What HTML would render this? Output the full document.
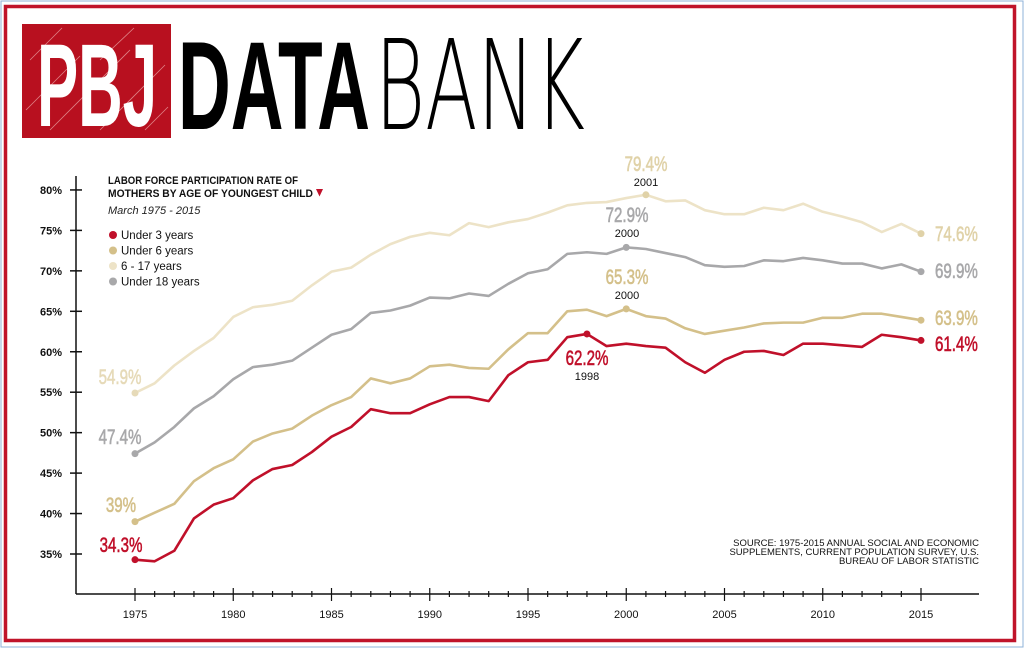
<!DOCTYPE html>
<html><head><meta charset="utf-8">
<style>
html,body{margin:0;padding:0;background:#fff;}
body{width:1024px;height:648px;position:relative;overflow:hidden;font-family:"Liberation Sans",sans-serif;}
svg{position:absolute;left:0;top:0;}
</style></head>
<body>
<svg width="1024" height="648" viewBox="0 0 1024 648">
  <rect x="1" y="1" width="1022" height="646" fill="none" stroke="#8fb3d9" stroke-width="1"/>
  <rect x="5.5" y="6.5" width="1009" height="634" fill="none" stroke="#c0142a" stroke-width="3.5"/>
  <g>
    <rect x="22" y="24" width="149" height="114" fill="#b8101f"/>
    <g stroke="#e8a0a0" stroke-width="0.8" opacity="0.8">
      <line x1="30" y1="60" x2="62" y2="28"/><line x1="26" y1="110" x2="80" y2="56"/><line x1="50" y1="130" x2="130" y2="50"/><line x1="100" y1="130" x2="165" y2="65"/><line x1="100" y1="60" x2="134" y2="28"/><line x1="145" y1="130" x2="168" y2="107"/>
    </g>
    <text x="37" y="126" font-family="Liberation Sans" font-weight="bold" font-size="118" fill="#fff" textLength="120" lengthAdjust="spacingAndGlyphs">PBJ</text>
    <text x="178" y="129" font-family="Liberation Sans" font-weight="bold" font-size="125" fill="#000" textLength="192" lengthAdjust="spacingAndGlyphs">DATA</text>
    <text x="375" y="129" font-family="DejaVu Sans ExtraLight, DejaVu Sans, sans-serif" font-weight="200" font-size="125" fill="#000" textLength="210" lengthAdjust="spacingAndGlyphs">BANK</text>
  </g>
  <g id="axes"></g>
  <g id="series"></g>
  <g>
    <text x="108" y="184" font-size="11" font-weight="bold" fill="#111" textLength="190" lengthAdjust="spacingAndGlyphs">LABOR FORCE PARTICIPATION RATE OF</text>
    <text x="108" y="197" font-size="11" font-weight="bold" fill="#111" textLength="205" lengthAdjust="spacingAndGlyphs">MOTHERS BY AGE OF YOUNGEST CHILD</text>
    <path d="M316 189 h7 l-3.5 7.5 z" fill="#c0102a"/>
    <text x="108" y="214" font-size="11" font-style="italic" fill="#222">March 1975 - 2015</text>
  </g>
  <g id="legend"></g>
  <g font-size="9.5" fill="#111" text-anchor="end">
    <text x="979" y="546">SOURCE: 1975-2015 ANNUAL SOCIAL AND ECONOMIC</text>
    <text x="979" y="555">SUPPLEMENTS, CURRENT POPULATION SURVEY, U.S.</text>
    <text x="979" y="564">BUREAU OF LABOR STATISTIC</text>
  </g>
</svg>
<script>
const years=[];for(let y=1975;y<=2015;y++)years.push(y);
const under3=[34.3,34.1,35.4,39.4,41.1,41.9,44.1,45.5,46.0,47.6,49.5,50.7,52.9,52.4,52.4,53.5,54.4,54.4,53.9,57.1,58.7,59.0,61.8,62.2,60.7,61.0,60.7,60.5,58.7,57.4,59.0,60.0,60.1,59.6,61.0,61.0,60.8,60.6,62.1,61.8,61.4];
const under6=[39.0,40.1,41.2,44.0,45.6,46.7,48.9,49.9,50.5,52.1,53.4,54.4,56.7,56.1,56.7,58.2,58.4,58.0,57.9,60.3,62.3,62.3,65.0,65.2,64.4,65.3,64.4,64.1,62.9,62.2,62.6,63.0,63.5,63.6,63.6,64.2,64.2,64.7,64.7,64.3,63.9];
const age6to17=[54.9,56.1,58.3,60.1,61.7,64.3,65.5,65.8,66.3,68.2,69.9,70.4,72.0,73.3,74.2,74.7,74.4,75.9,75.4,76.0,76.4,77.2,78.1,78.4,78.5,79.0,79.4,78.6,78.7,77.5,77.0,77.0,77.8,77.5,78.3,77.3,76.7,76.0,74.8,75.8,74.6];
const under18=[47.4,48.8,50.7,53.0,54.5,56.6,58.1,58.4,58.9,60.5,62.1,62.8,64.8,65.1,65.7,66.7,66.6,67.2,66.9,68.4,69.7,70.2,72.1,72.3,72.1,72.9,72.7,72.2,71.7,70.7,70.5,70.6,71.3,71.2,71.6,71.3,70.9,70.9,70.3,70.8,69.9];
const yTicks=[35,40,45,50,55,60,65,70,75,80];
const xLabels=[1975,1980,1985,1990,1995,2000,2005,2010,2015];
const seriesNames=["Under 3 years","Under 6 years","6 - 17 years","Under 18 years"];

const NS="http://www.w3.org/2000/svg";
const X=y=>135+(y-1975)*19.65;
const Y=v=>554-(v-35)*8.09;
function mk(tag,attrs,parent,txt){const e=document.createElementNS(NS,tag);for(const k in attrs)e.setAttribute(k,attrs[k]);if(txt!==undefined)e.textContent=txt;parent.appendChild(e);return e;}
const axes=document.getElementById('axes');
const ya=mk('line',{x1:76,y1:176,x2:76,y2:594,stroke:'#111','stroke-width':1.5},axes);


yTicks.forEach(t=>{
  mk('line',{x1:70,x2:82,y1:Y(t),y2:Y(t),stroke:'#111','stroke-width':1.5},axes);
  const l=mk('text',{x:62,y:Y(t)+4,'text-anchor':'end','font-size':11,'font-weight':'bold',fill:'#111'},axes,t+'%');
  
  
});
const xa=mk('line',{x1:76,y1:594,x2:979,y2:594,stroke:'#111','stroke-width':1.5},axes);


years.forEach(y=>{
  const major=xLabels.includes(y);
  mk('line',{x1:X(y),x2:X(y),y1:major?588:591,y2:major?601:597,stroke:'#111','stroke-width':1.2},axes);
});
xLabels.forEach(y=>{
  const l=mk('text',{x:X(y),y:618,'text-anchor':'middle','font-size':11,fill:'#111'},axes,y);
  
  
});
const sg=document.getElementById('series');
const defs=[
 {d:age6to17,c:'#ede3c7',name:'series-6-17-years'},
 {d:under18,c:'#a8a8aa',name:'series-under-18-years'},
 {d:under6,c:'#d4c08a',name:'series-under-6-years'},
 {d:under3,c:'#c0102a',name:'series-under-3-years'}];
defs.forEach(s=>{
  const p=mk('polyline',{points:s.d.map((v,i)=>X(years[i])+','+Y(v)).join(' '),fill:'none',stroke:s.c,'stroke-width':2.6,'stroke-linejoin':'round'},sg);
  
  
});
function cond(x,y,txt,color,size,anchor){
  return mk('text',{x:0,y:0,'text-anchor':anchor,'font-size':size,fill:color,stroke:color,'stroke-width':0.6,transform:`translate(${x} ${y}) scale(0.72 1)`},sg,txt);
}
function pt(arr,yr,color,label,yearLbl,lx,ly,anchor){
  const i=yr-1975;const v=arr[i];
  const c=mk('circle',{cx:X(yr),cy:Y(v),r:3.5,fill:color},sg);
  
  
  const t=cond(lx,ly,label,color,21,anchor);
  
  
  if(yearLbl){const yl=mk('text',{x:lx,y:ly+15,'text-anchor':'middle','font-size':11,fill:'#111'},sg,yearLbl);
    
    }
}
pt(age6to17,1975,'#e6dab8','54.9%',null,120,384,'middle');
pt(under18,1975,'#a8a8aa','47.4%',null,120,444,'middle');
pt(under6,1975,'#d4c08a','39%',null,121,512,'middle');
pt(under3,1975,'#c0102a','34.3%',null,121,552,'middle');
pt(age6to17,2001,'#e0d2a8','79.4%','2001',646,171,'middle');
pt(under18,2000,'#a8a8aa','72.9%','2000',627,222,'middle');
pt(under6,2000,'#d4c08a','65.3%','2000',627,284,'middle');
pt(under3,1998,'#c0102a','62.2%','1998',587,365,'middle');
pt(age6to17,2015,'#e0d2a8','74.6%',null,935,241,'start');
pt(under18,2015,'#a8a8aa','69.9%',null,935,278,'start');
pt(under6,2015,'#d4c08a','63.9%',null,935,325,'start');
pt(under3,2015,'#c0102a','61.4%',null,935,351,'start');

const lg=document.getElementById('legend');
const lc=['#c0102a','#d4c08a','#ede3c7','#a8a8aa'];
seriesNames.forEach((n,i)=>{
  const g=mk('g',{},lg);
  
  
  mk('circle',{cx:113,cy:235+i*15.5,r:4,fill:lc[i]},g);
  mk('text',{x:121,y:239+i*15.5,'font-size':11.5,fill:'#111'},g,n);
});
</script>
</body></html>
